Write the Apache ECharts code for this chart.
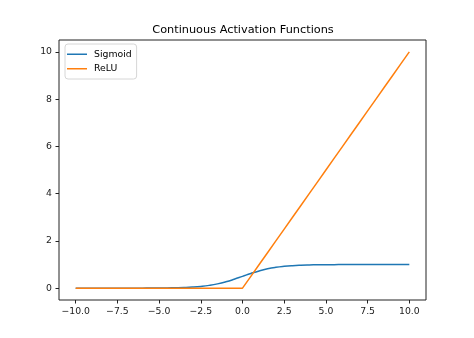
<!DOCTYPE html>
<html>
<head>
<meta charset="utf-8">
<script src="https://cdn.jsdelivr.net/npm/echarts@6/dist/echarts.min.js"></script>
<style>
  html, body { margin: 0; padding: 0; background: #fff; }
  #chart { width: 474px; height: 338px; }
</style>
</head>
<body>
<div id="chart"></div>
<script>
// Sample positions along the input axis
const xs = [-10, -9.5, -9, -8.5, -8, -7.5, -7, -6.5, -6, -5.5, -5, -4.5, -4, -3.5, -3, -2.5, -2, -1.5, -1, -0.5,
  0, 0.5, 1, 1.5, 2, 2.5, 3, 3.5, 4, 4.5, 5, 5.5, 6, 6.5, 7, 7.5, 8, 8.5, 9, 9.5, 10];

// Sigmoid output at each sample
const sigmoidValues = [0.000, 0.000, 0.000, 0.000, 0.000, 0.001, 0.001, 0.002, 0.002, 0.004, 0.007, 0.011, 0.018, 0.029,
  0.047, 0.076, 0.119, 0.182, 0.269, 0.378, 0.500, 0.622, 0.731, 0.818, 0.881, 0.924, 0.953, 0.971, 0.982, 0.989,
  0.993, 0.996, 0.998, 0.998, 0.999, 0.999, 1.000, 1.000, 1.000, 1.000, 1.000];

// ReLU output at each sample
const reluValues = [0, 0, 0, 0, 0, 0, 0, 0, 0, 0, 0, 0, 0, 0, 0, 0, 0, 0, 0, 0,
  0, 0.5, 1, 1.5, 2, 2.5, 3, 3.5, 4, 4.5, 5, 5.5, 6, 6.5, 7, 7.5, 8, 8.5, 9, 9.5, 10];

const xTicks = [-10, -7.5, -5, -2.5, 0, 2.5, 5, 7.5, 10];
const yTicks = [0, 2, 4, 6, 8, 10];

const seriesNames = ['Sigmoid', 'ReLU'];
const colors = ['#1f77b4', '#ff7f0e'];

const pair = (vals) => xs.map((x, i) => [x, vals[i]]);
const minus = (s) => s.replace('-', '\u2212');
const FONT = 'DejaVu Sans';
const TICK_FONT = 9.3;

const chart = echarts.init(document.getElementById('chart'), null, { renderer: 'canvas' });
chart.setOption({
  animation: false,
  backgroundColor: '#ffffff',
  title: {
    text: 'Continuous Activation Functions',
    left: 243, top: 25, textAlign: 'center', padding: 0,
    textStyle: { fontFamily: FONT, fontSize: 11.3, fontWeight: 'normal', color: '#000' }
  },
  grid: { left: 59, right: 48, top: 40, bottom: 38, show: true, borderColor: '#222', borderWidth: 1, backgroundColor: 'transparent' },
  legend: {
    orient: 'vertical', left: 65, top: 44,
    data: seriesNames,
    icon: 'rect', itemWidth: 20, itemHeight: 1.5, itemGap: 4,
    padding: [5, 5, 5, 2],
    backgroundColor: '#fff', borderColor: '#d6d6d6', borderWidth: 1, borderRadius: 3,
    textStyle: { fontFamily: FONT, fontSize: TICK_FONT, lineHeight: 10.5, color: '#000', padding: [0, 0, 0, 2] }
  },
  xAxis: {
    type: 'value', min: -11, max: 11,
    axisLine: { show: false, onZero: false },
    splitLine: { show: false },
    axisTick: { show: true, customValues: xTicks, length: 3.5, lineStyle: { color: '#222' } },
    axisLabel: {
      customValues: xTicks, margin: 7,
      fontFamily: FONT, fontSize: TICK_FONT, color: '#222',
      formatter: (v) => minus(Number(v).toFixed(1))
    }
  },
  yAxis: {
    type: 'value', min: -0.5, max: 10.5,
    axisLine: { show: false, onZero: false },
    splitLine: { show: false },
    axisTick: { show: true, customValues: yTicks, length: 3.5, lineStyle: { color: '#222' } },
    axisLabel: {
      customValues: yTicks, margin: 7,
      fontFamily: FONT, fontSize: TICK_FONT, color: '#222',
      formatter: (v) => minus(String(Math.round(v)))
    }
  },
  series: [
    {
      name: seriesNames[0], type: 'line', data: pair(sigmoidValues),
      showSymbol: false, symbol: 'none', smooth: true,
      lineStyle: { color: colors[0], width: 1.5 }, itemStyle: { color: colors[0] }
    },
    {
      name: seriesNames[1], type: 'line', data: pair(reluValues),
      showSymbol: false, symbol: 'none',
      lineStyle: { color: colors[1], width: 1.5 }, itemStyle: { color: colors[1] }
    }
  ]
});
</script>
</body>
</html>
